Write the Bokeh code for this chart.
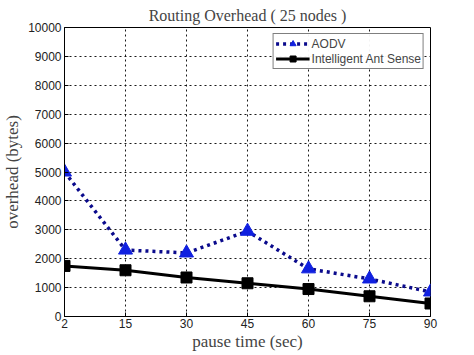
from bokeh.plotting import figure
from bokeh.models import Range1d, FixedTicker, Legend, LegendItem
from bokeh.embed import file_html
from bokeh.resources import INLINE

pause_labels = ["2", "15", "30", "45", "60", "75", "90"]
aodv = [5000, 2300, 2200, 2950, 1650, 1300, 850]
ant = [1750, 1600, 1350, 1150, 950, 700, 450]
y_ticks = [0, 1000, 2000, 3000, 4000, 5000, 6000, 7000, 8000, 9000, 10000]

xs = list(range(len(pause_labels)))

p = figure(width=474, height=355, output_backend="svg", toolbar_location=None,
           x_range=Range1d(0, len(xs) - 1), y_range=Range1d(0, 10000),
           min_border_left=62, min_border_right=44, min_border_top=27, min_border_bottom=39,
           title="Routing Overhead ( 25 nodes )")
p.title.align = "center"
p.title.text_font = "Liberation Serif"
p.title.text_font_size = "16px"
p.title.text_font_style = "normal"
p.title.offset = 0
p.title.standoff = 8

p.outline_line_color = "black"
p.outline_line_width = 1
p.background_fill_color = "white"
p.border_fill_color = "white"

for ax in (p.xaxis[0], p.yaxis[0]):
    ax.major_tick_in = 4
    ax.major_tick_out = 0
    ax.minor_tick_line_color = None
    ax.axis_line_color = "black"
    ax.major_label_text_font = "Liberation Sans"
    ax.major_label_text_font_size = "12px"
    ax.major_label_text_color = "#222222"
    ax.axis_label_text_font = "Liberation Serif"
    ax.axis_label_text_font_size = "17px"
    ax.axis_label_text_font_style = "normal"

p.xaxis[0].ticker = FixedTicker(ticks=xs)
p.xaxis[0].major_label_overrides = {i: l for i, l in enumerate(pause_labels)}
p.xaxis[0].axis_label = "pause time (sec)"
p.xaxis[0].axis_label_standoff = 1
p.xaxis[0].major_label_standoff = 2
p.yaxis[0].ticker = FixedTicker(ticks=y_ticks)
p.yaxis[0].axis_label = "overhead (bytes)"
p.yaxis[0].axis_label_standoff = 3
p.yaxis[0].major_label_standoff = 3

p.xgrid.ticker = FixedTicker(ticks=xs)
p.ygrid.ticker = FixedTicker(ticks=y_ticks)
for g in (p.xgrid[0], p.ygrid[0]):
    g.grid_line_color = "black"
    g.grid_line_dash = "2 3"
    g.grid_line_width = 1
    g.grid_line_alpha = 0.9

l1 = p.line(xs, aodv, line_color="#0a0a8c", line_width=3.5, line_dash="3 4")
m1 = p.scatter(xs, aodv, marker="triangle", size=14, fill_color="#1020e0", line_color="#1020e0")
l2 = p.line(xs, ant, line_color="black", line_width=3)
m2 = p.scatter(xs, ant, marker="square", size=11, fill_color="black", line_color="black")

legend = Legend(items=[LegendItem(label="AODV", renderers=[l1, m1]),
                       LegendItem(label="Intelligent Ant Sense", renderers=[l2, m2])],
                location="top_right")
legend.label_text_font = "Liberation Sans"
legend.label_text_font_size = "12px"
legend.border_line_color = "black"
legend.border_line_width = 1
legend.margin = 6
legend.padding = 2
legend.spacing = 0
legend.glyph_width = 34
legend.glyph_height = 15
legend.label_height = 15
legend.label_standoff = 2
p.add_layout(legend)

open("out.html", "w").write(file_html(p, INLINE))
